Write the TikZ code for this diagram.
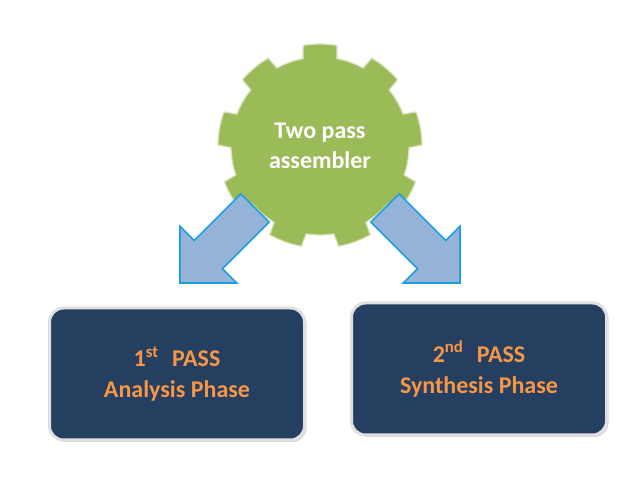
\documentclass[tikz,border=0pt]{standalone}
\usepackage{fontspec}
\setmainfont{Carlito}
\usetikzlibrary{shadows}
\definecolor{gearg}{HTML}{9BBB59}
\definecolor{navy}{HTML}{243F60}
\definecolor{org}{HTML}{F79646}
\definecolor{arrf}{HTML}{95B3D7}
\definecolor{arrl}{HTML}{1E9FE0}
\tikzset{
  box/.style={draw=white!88!black, line width=3pt, fill=navy, rounded corners=14pt, minimum width=255pt, minimum height=132pt, drop shadow={shadow xshift=2pt, shadow yshift=-2pt, opacity=0.3}, text=org, font=\bfseries\fontsize{24}{31}\selectfont, align=center},
  arr/.style={fill=arrf, draw=arrl, line width=1.6pt, line join=miter},
  gear/.style={fill=gearg, draw=gearg!40!white, line width=1.2pt}
}
\begin{document}
\begin{tikzpicture}[x=1pt,y=1pt]
\useasboundingbox (0,0) rectangle (638,-478);
\fill[white] (0,0) rectangle (638,-478);
\coordinate (gc) at (320,-146);
\begin{scope}[shift={(gc)}]
\path[gear] (90-11:89)
  \foreach \a in {90,130,170,210,250,290,330,370,410} {
    -- (\a-9.5:102) arc[start angle=\a-9.5, end angle=\a+9.5, radius=102]
    -- (\a+11:89) arc[start angle=\a+11, end angle=\a+29, radius=89]
  } -- cycle;
\end{scope}
\node[text=white, font=\bfseries\fontsize{24}{30}\selectfont, align=center] (g) at (gc) {Two pass\\assembler};
\coordinate (la) at (255,-208);
\coordinate (ra) at (385,-208);
\begin{scope}[shift={(la)}, rotate=-135]
\path[arr] (0,-20) -- (66,-20) -- (66,-40) -- (106,0) -- (66,40) -- (66,20) -- (0,20) -- cycle;
\end{scope}
\begin{scope}[shift={(ra)}, rotate=-45]
\path[arr] (0,-20) -- (66,-20) -- (66,-40) -- (106,0) -- (66,40) -- (66,20) -- (0,20) -- cycle;
\end{scope}
\node[box] (p1) at (177,-374) {1\textsuperscript{st}\,\, PASS\\Analysis Phase};
\node[box] (p2) at (479,-369) {2\textsuperscript{nd}\,\, PASS\\Synthesis Phase};
\end{tikzpicture}
\end{document}
